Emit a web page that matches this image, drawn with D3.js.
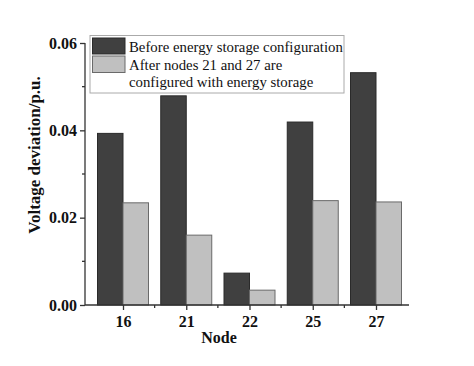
<!DOCTYPE html>
<html>
<head>
<meta charset="utf-8">
<script src="https://cdn.jsdelivr.net/npm/d3@7"></script>
<style>
  body { margin: 0; background: #fff; }
  svg { display: block; }
</style>
</head>
<body>
<script>
const nodes = ["16", "21", "22", "25", "27"];
const before = [0.0393, 0.0479, 0.0073, 0.0419, 0.0532];
const after = [0.0234, 0.0160, 0.0034, 0.0239, 0.0236];
const seriesNames = ["Before energy storage configuration",
  ["After nodes 21 and 27 are", "configured with energy storage"]];
const yTicks = [0, 0.02, 0.04, 0.06];
const yMinor = [0.01, 0.03, 0.05];

const width = 474, height = 366;
const font = "'Liberation Serif', 'Times New Roman', serif";

const svg = d3.select("body").append("svg")
  .attr("width", width)
  .attr("height", height);

const x = d3.scalePoint()
  .domain(nodes)
  .range([123, 376]);
const step = x.step();
const barW = 25.5;

const y = d3.scaleLinear()
  .domain([0, 0.06])
  .range([305, 43]);

// bars
const g = svg.append("g");
g.selectAll("rect.before")
  .data(before)
  .join("rect")
  .attr("x", (d, i) => x(nodes[i]) - barW)
  .attr("y", d => y(d))
  .attr("width", barW)
  .attr("height", d => y(0) - y(d))
  .attr("fill", "#404040")
  .attr("stroke", "#2a2a2a")
  .attr("stroke-width", 1);
g.selectAll("rect.after")
  .data(after)
  .join("rect")
  .attr("x", (d, i) => x(nodes[i]))
  .attr("y", d => y(d))
  .attr("width", barW)
  .attr("height", d => y(0) - y(d))
  .attr("fill", "#c0c0c0")
  .attr("stroke", "#6a6a6a")
  .attr("stroke-width", 1);

// y axis
const yAxis = svg.append("g")
  .attr("transform", "translate(85,0)")
  .call(d3.axisLeft(y).tickValues(yTicks).tickFormat(d3.format(".2f")).tickSize(5).tickPadding(3));
yAxis.select(".domain").attr("d", `M0,${y(0)}V${y(0.06)}`);
yAxis.selectAll("text")
  .attr("font-family", font)
  .attr("font-weight", "bold")
  .attr("font-size", 16)
  .attr("fill", "#111");
yAxis.selectAll("line, path").attr("stroke", "#333").attr("stroke-width", 1.3);
yAxis.selectAll(".minor")
  .data(yMinor)
  .join("line")
  .attr("class", "minor")
  .attr("x1", -3).attr("x2", 0)
  .attr("y1", d => y(d)).attr("y2", d => y(d))
  .attr("stroke", "#333").attr("stroke-width", 1.3);

// x axis
const xAxis = svg.append("g")
  .attr("transform", `translate(0,${y(0)})`)
  .call(d3.axisBottom(x).tickSize(5).tickPadding(6));
xAxis.select(".domain").attr("d", "M85,0H409");
xAxis.selectAll("text")
  .attr("font-family", font)
  .attr("font-weight", "bold")
  .attr("font-size", 16)
  .attr("fill", "#111");
xAxis.selectAll("line, path").attr("stroke", "#333").attr("stroke-width", 1.3);
xAxis.selectAll(".minor")
  .data(nodes.slice(1))
  .join("line")
  .attr("class", "minor")
  .attr("x1", d => x(d) - step / 2).attr("x2", d => x(d) - step / 2)
  .attr("y1", 0).attr("y2", 3)
  .attr("stroke", "#333").attr("stroke-width", 1.3);

// axis titles
svg.append("text")
  .attr("x", 219).attr("y", 343)
  .attr("text-anchor", "middle")
  .attr("font-family", font)
  .attr("font-weight", "bold")
  .attr("font-size", 16)
  .attr("fill", "#111")
  .text("Node");

svg.append("text")
  .attr("transform", "translate(40,155) rotate(-90)")
  .attr("text-anchor", "middle")
  .attr("font-family", font)
  .attr("font-weight", "bold")
  .attr("font-size", 17)
  .attr("fill", "#111")
  .text("Voltage deviation/p.u.");

// legend
const legend = svg.append("g");
legend.append("rect")
  .attr("x", 90).attr("y", 35.5)
  .attr("width", 254).attr("height", 57.5)
  .attr("fill", "#fff")
  .attr("stroke", "#aaa")
  .attr("stroke-width", 1);
legend.append("rect")
  .attr("x", 92.5).attr("y", 38)
  .attr("width", 32.5).attr("height", 16)
  .attr("fill", "#404040").attr("stroke", "#2a2a2a");
legend.append("rect")
  .attr("x", 92.5).attr("y", 56)
  .attr("width", 32.5).attr("height", 16.5)
  .attr("fill", "#c0c0c0").attr("stroke", "#6a6a6a");
const lines = [seriesNames[0], ...seriesNames[1]];
legend.selectAll("text.l")
  .data(lines)
  .join("text")
  .attr("x", 129)
  .attr("y", (d, i) => 52 + i * 17.5)
  .attr("font-family", font)
  .attr("font-size", 14.8)
  .attr("fill", "#111")
  .text(d => d);
</script>
</body>
</html>
